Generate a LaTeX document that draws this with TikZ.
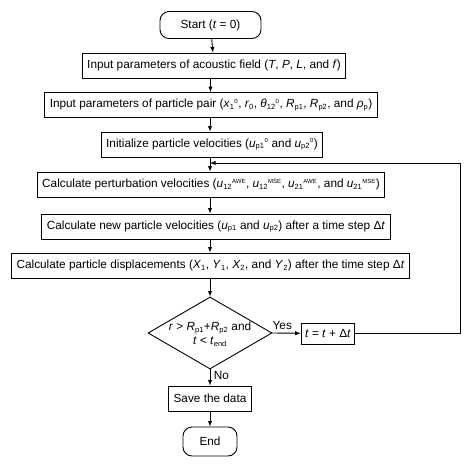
\documentclass[tikz,border=0pt]{standalone}
\usepackage{fontspec}
\setmainfont{Liberation Sans}
\usetikzlibrary{shapes.geometric}
\newcommand{\lo}[1]{\textsubscript{\fontsize{7.5}{8}\selectfont #1}}
\newcommand{\hi}[1]{\textsuperscript{\fontsize{6}{6}\selectfont #1}}
\begin{document}
\begin{tikzpicture}[x=1pt,y=-1pt,line width=0.9pt,
  every node/.style={font=\fontsize{11.8}{14}\selectfont},
  stepbox/.style={draw,rectangle,minimum height=25pt,inner xsep=5pt},
  termbox/.style={draw,rectangle,rounded corners=9pt,minimum height=27pt},
  testbox/.style={draw,diamond,minimum width=124pt,minimum height=72pt,inner sep=0pt}]
  \useasboundingbox (0,0) rectangle (474,466);
  \node[termbox,minimum width=101pt] (start) at (210.5,25) {Start (\textit{t} = 0)};
  \node[stepbox] (field) at (214,65.5) {Input parameters of acoustic field (\textit{T}, \textit{P}, \textit{L}, and \textit{f})};
  \node[stepbox] (pair) at (211,105) {Input parameters of particle pair (\textit{x}\lo{1}\hi{0}, \textit{r}\lo{0}, \textit{θ}\lo{12}\hi{0}, \textit{R}\lo{p1}, \textit{R}\lo{p2}, and \textit{ρ}\lo{p})};
  \node[stepbox] (init) at (212,144.5) {Initialize particle velocities (\textit{u}\lo{p1}\hi{0} and \textit{u}\lo{p2}\hi{0})};
  \node[stepbox] (pert) at (211,184.5) {Calculate perturbation velocities (\textit{u}\lo{12}\hi{AWE}, \textit{u}\lo{12}\hi{MSE}, \textit{u}\lo{21}\hi{AWE}, and \textit{u}\lo{21}\hi{MSE})};
  \node[stepbox] (vel) at (216,226.5) {Calculate new particle velocities (\textit{u}\lo{p1} and \textit{u}\lo{p2}) after a time step Δ\textit{t}};
  \node[stepbox] (disp) at (210.5,265.5) {Calculate particle displacements (\textit{X}\lo{1}, \textit{Y}\lo{1}, \textit{X}\lo{2}, and \textit{Y}\lo{2}) after the time step Δ\textit{t}};
  \node[testbox] (check) at (210,333) {};
  \node[align=center,inner sep=0pt] (checktext) at (210,334) {\textit{r} > \textit{R}\lo{p1}+\textit{R}\lo{p2} and\\\textit{t} < \textit{t}\lo{end}};
  \node[stepbox,minimum height=21pt,inner xsep=4pt] (tstep) at (328,333.5) {\textit{t} = \textit{t} + Δ\textit{t}};
  \node[stepbox] (save) at (210,398.5) {Save the data};
  \node[termbox,minimum width=54pt,minimum height=29pt] (finish) at (210,441.5) {End};
  \coordinate (corner) at (460,163);
  \coordinate (join) at (210,163);
  % main line
  \draw[-latex] (start) -- (field);
  \draw[-latex] (field.south -| start.south) -- (pair.north -| start.south);
  \draw[-latex] (pair.south -| check.north) -- (init.north -| check.north);
  \draw[-latex] (init.south -| check.north) -- (pert.north -| check.north);
  \draw[-latex] (pert.south -| check.north) -- (vel.north -| check.north);
  \draw[-latex] (vel.south -| check.north) -- (disp.north -| check.north);
  \draw[-latex] (disp.south -| check.north) -- (check.north);
  \draw[-latex] (check.east) -- (tstep) node[pos=0.35,above] {Yes};
  \draw[-latex] (check.south) -- (save) node[pos=0.4,right] {No};
  \draw[-latex] (save) -- (finish);
  % loop back
  \draw[-latex] (tstep) -| (corner) -- (join);
\end{tikzpicture}
\end{document}
